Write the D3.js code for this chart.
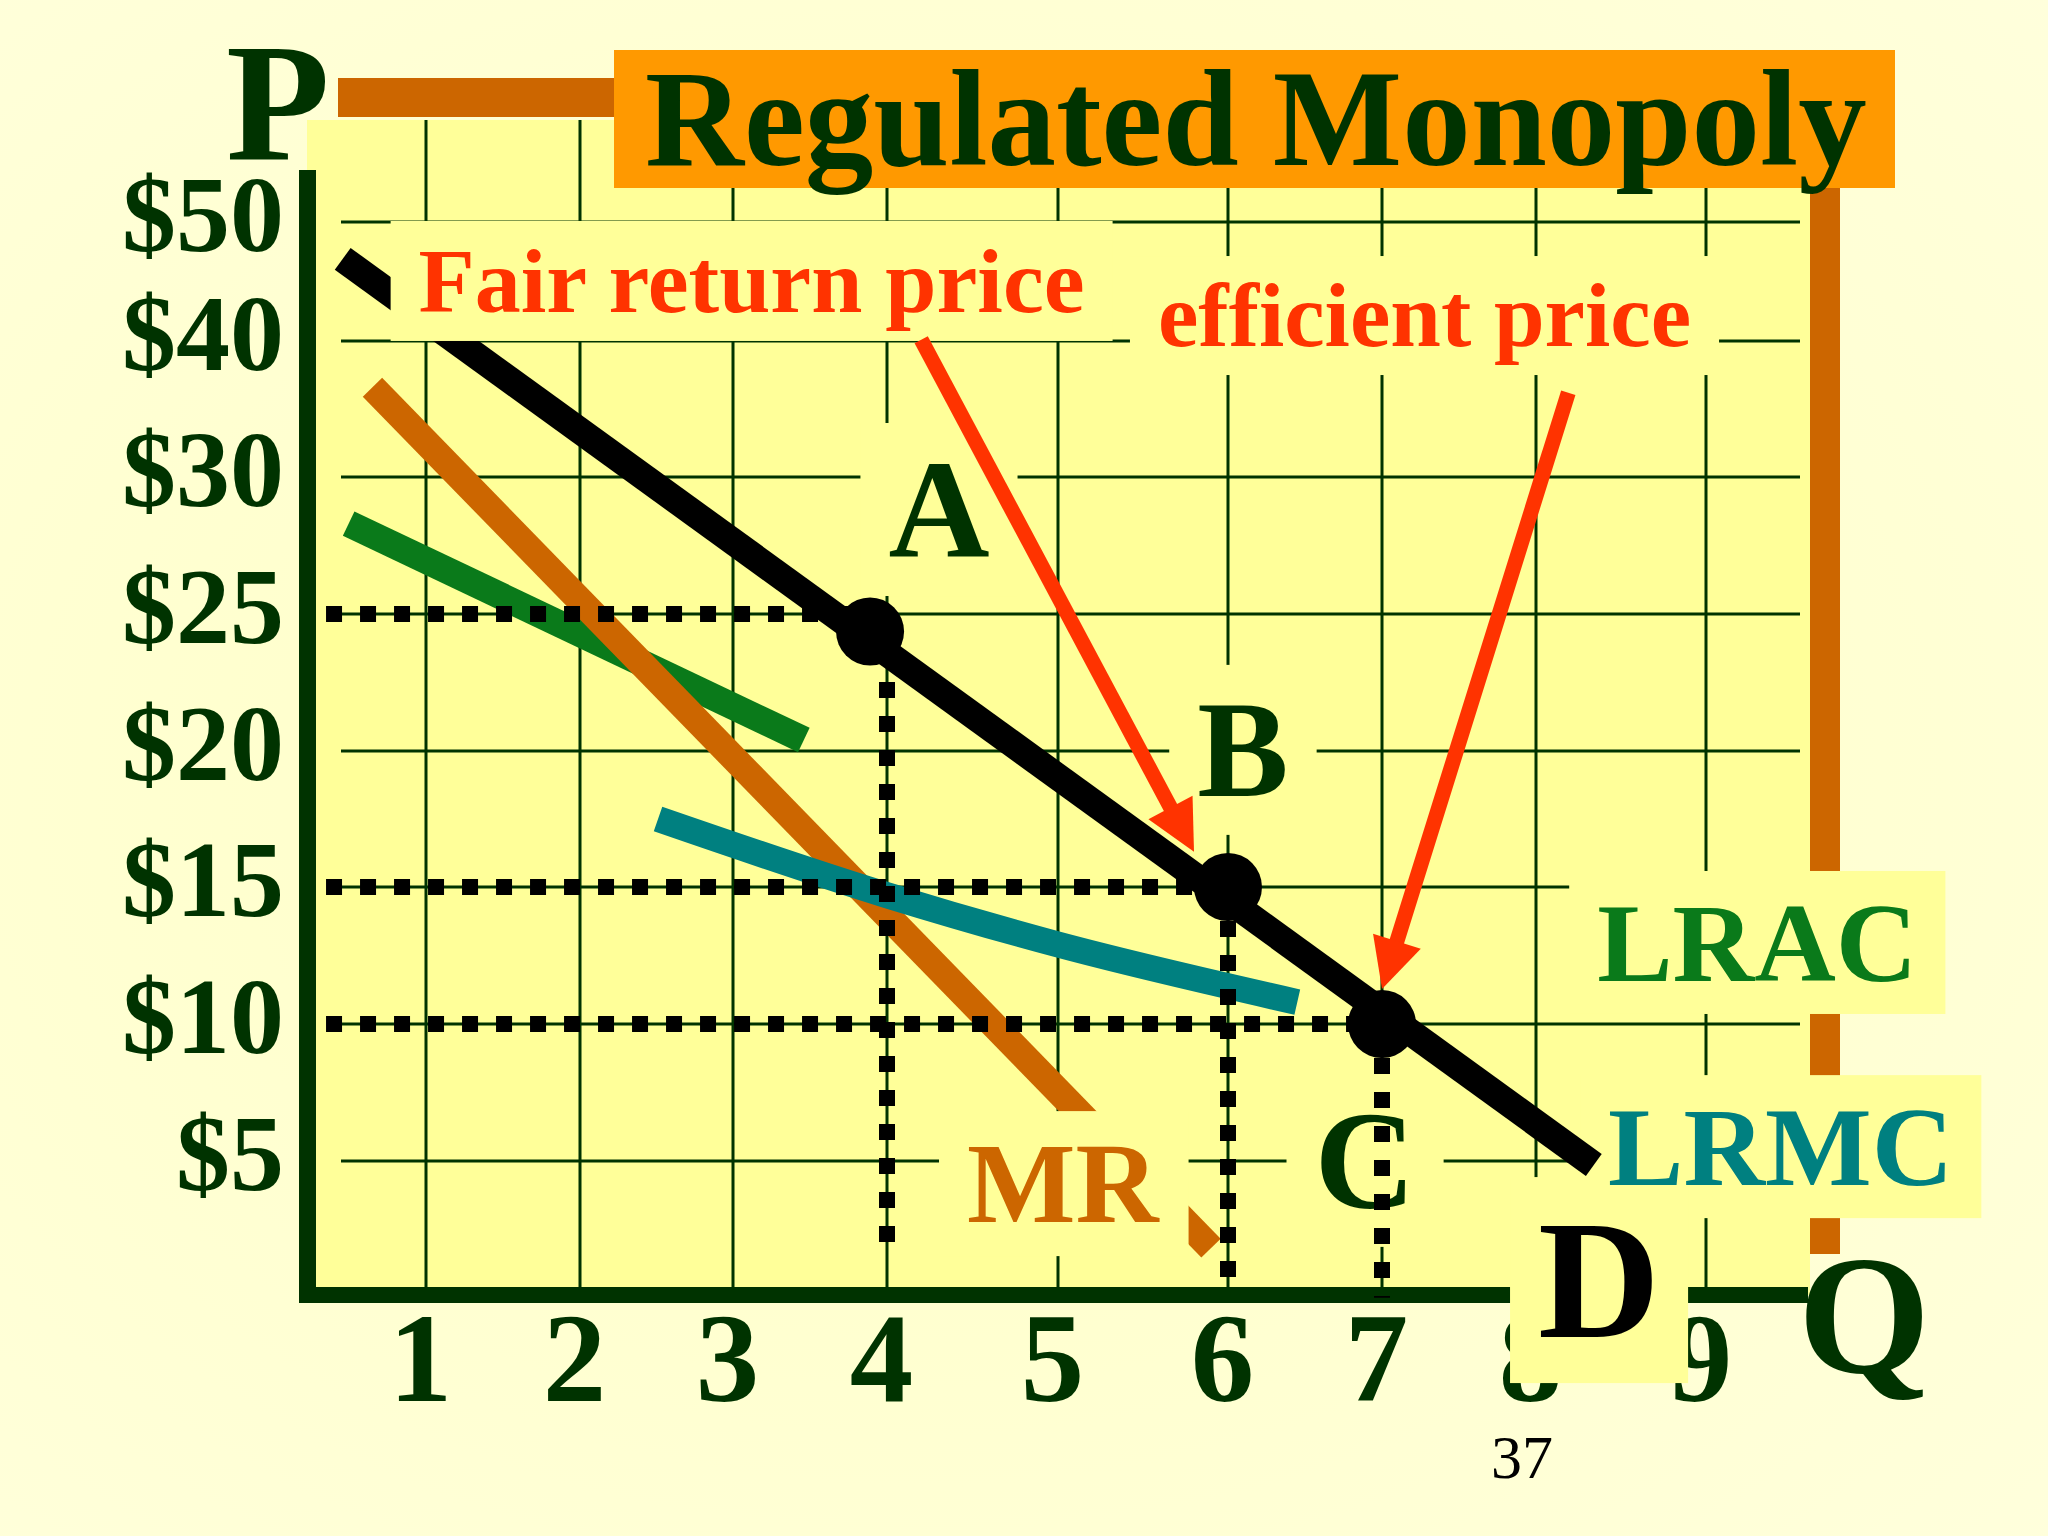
<!DOCTYPE html>
<html>
<head>
<meta charset="utf-8">
<script src="https://cdn.jsdelivr.net/npm/d3@7"></script>
<style>
html, body { margin: 0; padding: 0; background: #FFFFCC; }
svg { display: block; }
text { font-family: "Liberation Serif", "Times New Roman", serif; font-weight: bold; }
</style>
</head>
<body>
<svg id="canvas" width="2048" height="1536"></svg>
<script>
// ticks on the two axes
const quantityTicks = [1, 2, 3, 4, 5, 6, 7, 8, 9]
const priceTicks = [5, 10, 15, 20, 25, 30, 40, 50]

// the grid on the slide is hand drawn, so every stop gets its own spot
const quantityStops = [0, 1, 2, 3, 4, 5, 6, 7, 8, 9]
const priceStops = [0, 5, 10, 15, 20, 25, 30, 40, 50]

// curves as [quantity, price]
const demand = [[0.30, 46.9], [8.34, 4.85]]
const marginalRevenue = [[0.55, 36.6], [5.9, 1.75]]
const lrac = [[0.35, 28.3], [3.46, 20.4]]
const lrmc = [[2.51, 17.5], [4, 14.7], [5, 12.9], [6.45, 10.8]]

// the three marked points
const pointNames = ['A', 'B', 'C']
const pointQ = [3.89, 6, 7]
const pointP = [24.36, 15, 10]

// dotted guide lines: level, quantity and where the vertical one stops
const guideP = [25, 15, 10]
const guideQ = [4, 6, 7]
const guideFloor = [1.9, 0.55, -0.1]
const guideStartQ = 0.16

// red arrows
const arrowFrom = [[4.2, 40.1], [8.19, 36.2]]
const arrowTo = [[5.8, 16.3], [7, 11.28]]

// text labels and where they sit (quantity, price)
const labelText = ['Fair return price', 'efficient price', 'A', 'B', 'C', 'MR', 'LRAC', 'LRMC', 'D']
const labelQ = [0.938, 5.588, 4.304, 6.097, 6.89, 4.468, 8.36, 8.424, 8.012]
const labelP = [42.44, 39.63, 27.08, 18.35, 3.25, 2.72, 11.57, 4.1, -1.57]

const title = 'Regulated Monopoly'

// colours
const dark = '#003300'
const plotFill = '#FFFF99'
const brown = '#CC6600'
const red = '#FF3300'
const green = '#0A7A1A'
const teal = '#008080'

const labelStyle = {
    'Fair return price': { size: 92, color: red, anchor: 'start', under: false },
    'efficient price': { size: 91, color: red, anchor: 'start', under: false },
    'A': { size: 140, color: dark, anchor: 'middle', under: false },
    'B': { size: 137, color: dark, anchor: 'middle', under: false },
    'C': { size: 140, color: dark, anchor: 'middle', under: false },
    'MR': { size: 115, color: brown, anchor: 'start', under: false },
    'LRAC': { size: 113, color: green, anchor: 'start', under: true },
    'LRMC': { size: 113, color: teal, anchor: 'start', under: true },
    'D': { size: 169, color: '#000000', anchor: 'start', under: true }
}

let canvas = d3.select('#canvas')

let x = d3.scaleLinear()
          .domain(quantityStops)
          .range([307, 426, 580, 733, 887, 1058, 1228, 1382, 1536, 1706])
let y = d3.scaleLinear()
          .domain(priceStops)
          .range([1295, 1161, 1024, 887, 751, 614, 477, 341, 222])

let plot = { left: 307, top: 120, right: 1810, bottom: 1295 }

// page background
let defs = canvas.append('defs')
let grad = defs.append('radialGradient')
               .attr('id', 'pageGrad')
               .attr('cx', '45%').attr('cy', '50%').attr('r', '75%')
grad.append('stop').attr('offset', '0%').attr('stop-color', '#FFFFC4')
grad.append('stop').attr('offset', '100%').attr('stop-color', '#FFFFDC')
canvas.append('rect')
      .attr('width', 2048).attr('height', 1536)
      .attr('fill', 'url(#pageGrad)')

// brown frame on top and right
canvas.append('rect')
      .attr('x', 338).attr('y', 78)
      .attr('width', 1840 - 338).attr('height', 39)
      .attr('fill', brown)
canvas.append('rect')
      .attr('x', 1809).attr('y', 78)
      .attr('width', 31).attr('height', 1254 - 78)
      .attr('fill', brown)

// plot area
canvas.append('rect')
      .attr('x', plot.left).attr('y', plot.top)
      .attr('width', plot.right - plot.left)
      .attr('height', plot.bottom - plot.top)
      .attr('fill', plotFill)

// grid
let grid = canvas.append('g').attr('stroke', dark).attr('stroke-width', 3)
grid.selectAll('line.h')
    .data(priceTicks)
    .enter()
    .append('line')
    .attr('class', 'h')
    .attr('x1', 341).attr('x2', 1800)
    .attr('y1', (d) => y(d)).attr('y2', (d) => y(d))
grid.selectAll('line.v')
    .data(quantityTicks)
    .enter()
    .append('line')
    .attr('class', 'v')
    .attr('y1', plot.top).attr('y2', plot.bottom - 8)
    .attr('x1', (d) => x(d)).attr('x2', (d) => x(d))

// axes lines
canvas.append('line')
      .attr('x1', 299).attr('x2', 1808)
      .attr('y1', y(0)).attr('y2', y(0))
      .attr('stroke', dark).attr('stroke-width', 16)
canvas.append('line')
      .attr('x1', x(0) + 0.5).attr('x2', x(0) + 0.5)
      .attr('y1', 170).attr('y2', 1303)
      .attr('stroke', dark).attr('stroke-width', 17)

// tick labels
let yAxis = d3.axisLeft(y)
              .tickValues(priceTicks)
              .tickFormat((d) => '$' + d)
              .tickSize(0)
              .tickPadding(23)
canvas.append('g')
      .attr('transform', 'translate(' + x(0) + ',0)')
      .call(yAxis)
      .call((g) => g.select('.domain').remove())
      .selectAll('text')
      .attr('font-size', 108)
      .attr('fill', dark)
      .attr('dy', '0.26em')

let xAxis = d3.axisBottom(x)
              .tickValues(quantityTicks)
              .tickFormat(d3.format('d'))
              .tickSize(0)
              .tickPadding(16)
canvas.append('g')
      .attr('transform', 'translate(-6,' + y(0) + ')')
      .call(xAxis)
      .call((g) => g.select('.domain').remove())
      .selectAll('text')
      .attr('font-size', 127)
      .attr('fill', dark)

// layers, in drawing order
let lowerBoxes = canvas.append('g')
let curves = canvas.append('g')
let upperBoxes = canvas.append('g')
let labels = canvas.append('g')
let guides = canvas.append('g')
let dots = canvas.append('g')
let arrows = canvas.append('g')

// curves
let line = d3.line()
             .x((d) => x(d[0]))
             .y((d) => y(d[1]))
let curveLine = d3.line()
                  .x((d) => x(d[0]))
                  .y((d) => y(d[1]))
                  .curve(d3.curveMonotoneX)

let drawCurve = (data, gen, color, width) => {
    curves.append('path')
          .datum(data)
          .attr('d', gen)
          .attr('fill', 'none')
          .attr('stroke', color)
          .attr('stroke-width', width)
          .attr('stroke-linecap', 'butt')
}
drawCurve(lrac, line, green, 27)
drawCurve(marginalRevenue, line, brown, 27)
drawCurve(lrmc, curveLine, teal, 26)
drawCurve(demand, line, '#000000', 27)

// labels with their backing boxes
labelText.forEach((name, i) => {
    let st = labelStyle[name]
    let t = labels.append('text')
                  .text(name)
                  .attr('x', x(labelQ[i]))
                  .attr('y', y(labelP[i]))
                  .attr('font-size', st.size)
                  .attr('text-anchor', st.anchor)
                  .attr('fill', st.color)
    let box = t.node().getBBox()
    let target = st.under ? lowerBoxes : upperBoxes
    target.append('rect')
          .attr('x', box.x - 28)
          .attr('y', box.y - 9)
          .attr('width', box.width + 56)
          .attr('height', box.height + 18)
          .attr('fill', plotFill)
})

// dotted guides
let dotted = (x1, y1, x2, y2) => {
    guides.append('line')
          .attr('x1', x1).attr('y1', y1)
          .attr('x2', x2).attr('y2', y2)
          .attr('stroke', '#000000')
          .attr('stroke-width', 16)
          .attr('stroke-dasharray', '16 18')
}
guideP.forEach((p, i) => {
    dotted(x(guideStartQ), y(p), x(guideQ[i]), y(p))
    dotted(x(guideQ[i]), y(p), x(guideQ[i]), y(guideFloor[i]))
})

// marked points
dots.selectAll('circle')
    .data(pointNames)
    .enter()
    .append('circle')
    .attr('cx', (d, i) => x(pointQ[i]))
    .attr('cy', (d, i) => y(pointP[i]))
    .attr('r', 34)
    .attr('fill', '#000000')

// arrows
arrowFrom.forEach((from, i) => {
    let to = arrowTo[i]
    let x0 = x(from[0]), y0 = y(from[1])
    let x1 = x(to[0]), y1 = y(to[1])
    let len = Math.hypot(x1 - x0, y1 - y0)
    let ux = (x1 - x0) / len, uy = (y1 - y0) / len
    let bx = x1 - ux * 50, by = y1 - uy * 50
    arrows.append('line')
          .attr('x1', x0).attr('y1', y0)
          .attr('x2', bx + ux * 4).attr('y2', by + uy * 4)
          .attr('stroke', red)
          .attr('stroke-width', 15)
    arrows.append('polygon')
          .attr('points', [
              [x1, y1],
              [bx - uy * 25, by + ux * 25],
              [bx + uy * 25, by - ux * 25]
          ].join(' '))
          .attr('fill', red)
})

// title bar
canvas.append('rect')
      .attr('x', 614).attr('y', 50)
      .attr('width', 1895 - 614).attr('height', 138)
      .attr('fill', '#FF9900')
canvas.append('text')
      .text(title)
      .attr('x', 645).attr('y', 165)
      .attr('font-size', 137)
      .attr('fill', dark)

// axis names
canvas.append('text')
      .text('P')
      .attr('x', 226).attr('y', 160)
      .attr('font-size', 170)
      .attr('fill', dark)
canvas.append('text')
      .text('Q')
      .attr('x', 1798).attr('y', 1372)
      .attr('font-size', 170)
      .attr('fill', dark)

// slide number
canvas.append('text')
      .text('37')
      .attr('x', 1522).attr('y', 1478)
      .attr('font-size', 62)
      .style('font-weight', 'normal')
      .attr('text-anchor', 'middle')
      .attr('fill', '#000000')
</script>
</body>
</html>
